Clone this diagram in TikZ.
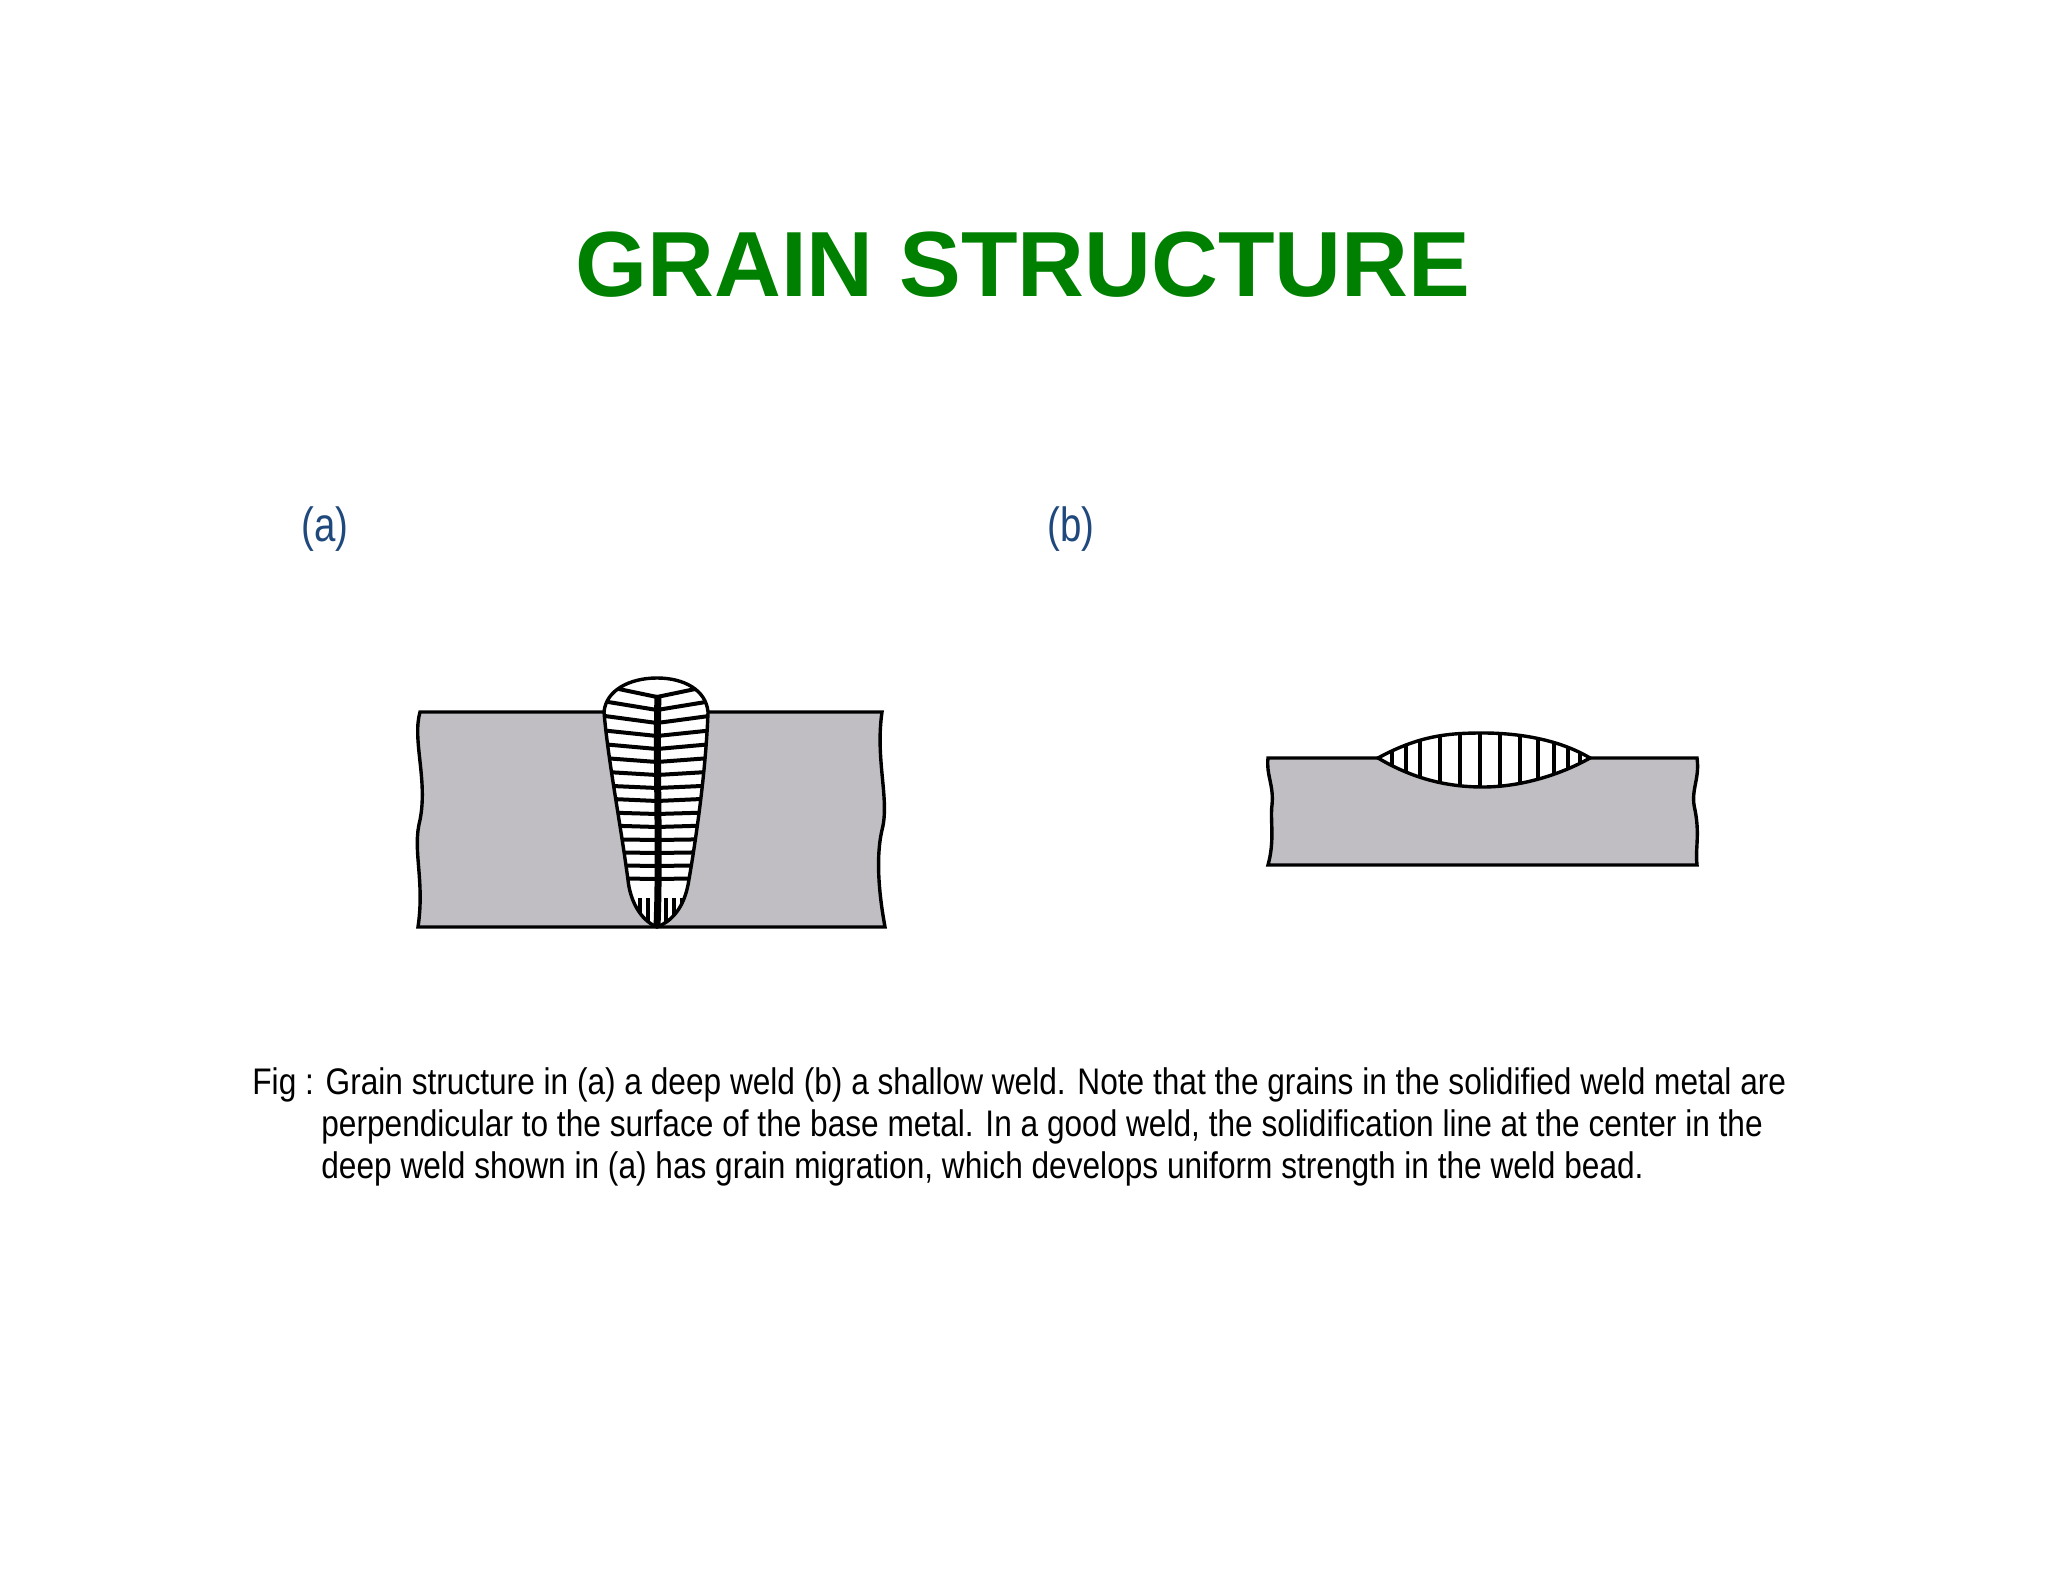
\documentclass[tikz,border=0pt]{standalone}
\usepackage{fontspec}
\setmainfont{Liberation Sans}
\newfontfamily\narrowf[FakeStretch=0.80]{Liberation Sans}
\newfontfamily\capf[FakeStretch=0.855]{Liberation Sans}
\definecolor{titlegreen}{RGB}{0,128,0}
\definecolor{labblue}{RGB}{31,73,125}
\definecolor{metal}{RGB}{192,190,195}
\begin{document}
\begin{tikzpicture}[x=0.5pt,y=-0.5pt,
  outl/.style={draw=black,line width=1.7pt},
  grain/.style={draw=black,line width=2pt},
  lab/.style={text=labblue,font=\narrowf\fontsize{24}{28}\selectfont},
  captext/.style={anchor=base west,inner sep=0pt,font=\capf\fontsize{18.5}{22}\selectfont}]
\useasboundingbox (0,0) rectangle (2048,1582);
\node (title) at (1023,265) {\fontsize{46.3}{56}\selectfont\bfseries\color{titlegreen}GRAIN STRUCTURE};
\node[lab] (la) at (325,529) {(a)};
\node[lab] (lb) at (1071,529) {(b)};
% plate a
\path[outl,fill=metal] (420,712) -- (882,712) .. controls (875,760) and (890,800) .. (882,830) .. controls (875,860) and (880,900) .. (885,927) -- (418,927) .. controls (425,880) and (412,850) .. (420,820) .. controls (428,780) and (412,740) .. (420,712) -- cycle;
% weld a
\path[outl,fill=white] (657,927) .. controls (640,920) and (630,900) .. (628,880) .. controls (620,820) and (608,760) .. (604,712) .. controls (606,690) and (630,678) .. (657,678) .. controls (684,678) and (706,690) .. (708,712) .. controls (706,770) and (696,840) .. (688,885) .. controls (683,910) and (670,922) .. (657,927) -- cycle;
\begin{scope}
\clip (657,927) .. controls (640,920) and (630,900) .. (628,880) .. controls (620,820) and (608,760) .. (604,712) .. controls (606,690) and (630,678) .. (657,678) .. controls (684,678) and (706,690) .. (708,712) .. controls (706,770) and (696,840) .. (688,885) .. controls (683,910) and (670,922) .. (657,927) -- cycle;
\draw[line width=3.5pt] (658,695) .. controls (656,760) and (660,850) .. (657,927);
\foreach \y/\d in {697/14,710/11,723/9,736/7,749/6,762/5,775/4,788/3,801/3,814/2,827/2,840/1,853/1,866/1,879/1} {
  \draw[grain] (657,\y) -- (590,\y-\d);
  \draw[grain] (657,\y) -- (724,\y-\d);
}
\foreach \x in {632,640,648,666,674,682} \draw[grain] (\x,898) -- (\x,930);
\end{scope}
% plate b
\path[outl,fill=metal] (1268,758) -- (1697,758) .. controls (1700,780) and (1690,790) .. (1695,810) .. controls (1700,835) and (1695,850) .. (1697,865) -- (1268,865) .. controls (1275,840) and (1270,820) .. (1272,805) .. controls (1274,785) and (1266,775) .. (1268,758) -- cycle;
\path[outl,fill=white] (1378,758) .. controls (1420,735) and (1450,733) .. (1483,733) .. controls (1520,733) and (1560,740) .. (1590,758) .. controls (1560,775) and (1520,787) .. (1483,787) .. controls (1450,787) and (1415,780) .. (1378,758) -- cycle;
\begin{scope}
\clip (1378,758) .. controls (1420,735) and (1450,733) .. (1483,733) .. controls (1520,733) and (1560,740) .. (1590,758) .. controls (1560,775) and (1520,787) .. (1483,787) .. controls (1450,787) and (1415,780) .. (1378,758) -- cycle;
\foreach \x in {1392,1406,1420,1440,1460,1480,1500,1520,1538,1554,1568,1580} \draw[grain] (\x,725) -- (\x,795);
\end{scope}
% caption
\node[captext] (c1) at (252,1094) {Fig : Grain structure in (a) a deep weld (b) a shallow weld. Note that the grains in the solidified weld metal are};
\node[captext] (c2) at (321,1136) {perpendicular to the surface of the base metal. In a good weld, the solidification line at the center in the};
\node[captext] (c3) at (321,1178) {deep weld shown in (a) has grain migration, which develops uniform strength in the weld bead.};
\end{tikzpicture}
\end{document}
